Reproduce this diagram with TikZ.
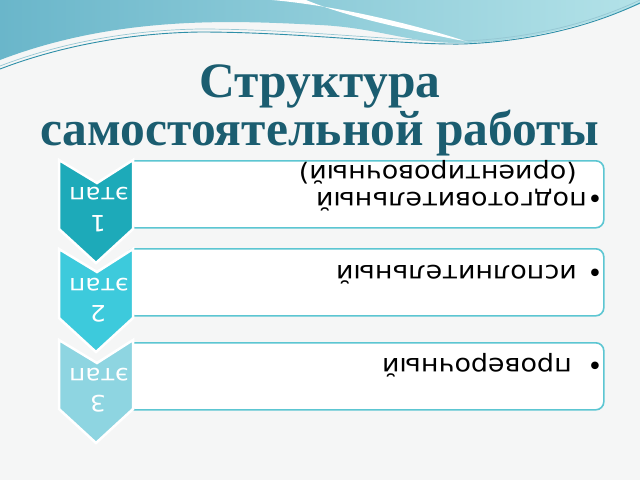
\documentclass[tikz,border=0pt]{standalone}
\usepackage{fontspec}
\setmainfont{Liberation Serif}
\newfontfamily\dvs{DejaVu Sans}
\newfontfamily\dvsw{DejaVu Sans}[FakeStretch=1.1]
\definecolor{bgc}{HTML}{F5F6F6}
\definecolor{hdark}{HTML}{6AB6CA}
\definecolor{hlight}{HTML}{B3E2E8}
\definecolor{hline}{HTML}{2E8FA8}
\definecolor{titlec}{HTML}{1B5D70}
\definecolor{chevA}{HTML}{1DAAB9}
\definecolor{chevB}{HTML}{3DCADC}
\definecolor{chevC}{HTML}{8ED5E1}
\definecolor{boxline}{HTML}{5CC6D2}
\tikzset{
  titletext/.style={font=\bfseries\fontsize{49.5}{58}\selectfont, text=titlec, inner sep=0pt},
  stagebox/.style={draw=boxline, line width=1.6pt, fill=white, rounded corners=8pt, minimum width=477pt, minimum height=67pt, anchor=north west, inner sep=0pt},
  chev/.style={draw=white, line width=2.5pt, line join=miter},
  chevtext/.style={font=\dvsw\fontsize{22.5}{28}\selectfont, text=white, rotate=180, anchor=base, inner sep=0pt},
  itemtext/.style={font=\dvsw\fontsize{24.5}{28}\selectfont, text=black, rotate=180, anchor=base west, inner sep=0pt},
  bullet/.style={font=\dvs\fontsize{26}{28}\selectfont, text=black, inner sep=0pt, anchor=center}
}
\begin{document}
\begin{tikzpicture}[x=1pt,y=-1pt]
\useasboundingbox (0,0) rectangle (640,480);
\fill[bgc] (0,0) rectangle (640,480);
% header waves
\shade[left color=hdark, right color=hlight]
  (0,0) -- (640,0) -- (640,4) .. controls (590,24) and (530,41) .. (465,43)
  .. controls (410,44) and (380,28) .. (320,25)
  .. controls (240,21) and (120,14) .. (0,60) -- cycle;
\fill[white] (272,0) .. controls (340,6) and (420,26) .. (468,42)
  .. controls (410,30) and (350,18) .. (306,0) -- cycle;
\draw[hline, line width=0.9pt] (0,69) .. controls (60,46) and (130,33) .. (200,32)
  .. controls (300,32) and (400,45) .. (463,44) .. controls (540,41) and (600,22) .. (640,3);
\draw[hline!50, line width=0.7pt] (0,66) .. controls (60,43) and (130,30) .. (200,29)
  .. controls (300,29) and (400,42) .. (463,41) .. controls (540,38) and (600,19) .. (640,0);
% title
\node[titletext, anchor=base] (title1) at (320,97) {Структура};
\node[titletext, anchor=base] (title2) at (320,145) {самостоятельной работы};
% boxes
\node[stagebox] (box1) at (126,160) {};
\node[stagebox] (box2) at (126,248) {};
\node[stagebox] (box3) at (126,342) {};
% chevrons
\filldraw[chev, fill=chevC] (59,340) -- (97,363) -- (133,340) -- (133,409) -- (96,443) -- (59,409) -- cycle;
\filldraw[chev, fill=chevB] (59,249) -- (97,272) -- (133,249) -- (133,318) -- (96,352) -- (59,318) -- cycle;
\filldraw[chev, fill=chevA] (59,160) -- (97,183) -- (133,160) -- (133,229) -- (96,263) -- (59,229) -- cycle;
% chevron texts
\node[chevtext] (s1a) at (99,187) {этап};
\node[chevtext] (s1b) at (98,215) {1};
\node[chevtext] (s2a) at (99,278) {этап};
\node[chevtext] (s2b) at (98,305) {2};
\node[chevtext] (s3a) at (99,368) {этап};
\node[chevtext] (s3b) at (98,395) {3};
% box texts
\node[itemtext] (i1a) at (587,192) {подготовительный};
\node[itemtext] (i1b) at (577,165) {(ориентировочный)};
\node[bullet] (b1) at (595,202) {•};
\node[itemtext] (i2) at (577,265) {исполнительный};
\node[bullet] (b2) at (595,276) {•};
\node[itemtext] (i3) at (572,358) {проверочный};
\node[bullet] (b3) at (595,369) {•};
\end{tikzpicture}
\end{document}
